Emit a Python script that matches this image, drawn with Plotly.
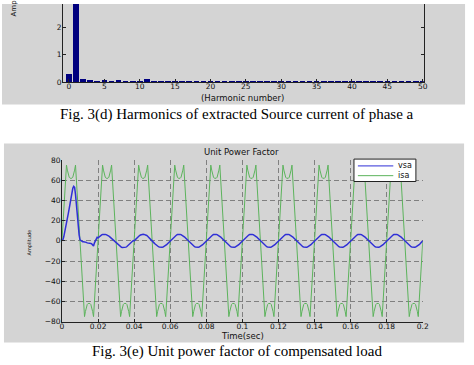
import plotly.graph_objects as go

W, H = 474, 365

def px(x):
    return x / W

def py(y):
    return 1 - y / H

# ---------------- data: harmonic spectrum (Fig. 3(d)) ----------------
harmonic_no = list(range(0, 51))
harmonic_amp = [0.28, 4.0, 0.10, 0.08, 0.05, 0.06, 0.05, 0.08, 0.05, 0.01,
                0.01, 0.12, 0.02, 0.02, 0.01, 0.04, 0.01, 0.02, 0.01, 0.02,
                0.03, 0.02, 0.01, 0.05, 0.02, 0.03, 0.01, 0.05, 0.02, 0.02,
                0.01, 0.02, 0.01, 0.02, 0.01, 0.01, 0.01, 0.01, 0.01, 0.01,
                0.01, 0.04, 0.01, 0.02, 0.01, 0.02, 0.01, 0.04, 0.01, 0.02,
                0.02]
harm_ticks = [0, 5, 10, 15, 20, 25, 30, 35, 40, 45, 50]

# ---------------- data: unit power factor waveforms (Fig. 3(e)) ----------------
t_step = 0.0005
n_cycles = 10
# one 20 ms cycle of isa (green), sampled every 0.5 ms
isa_cycle = [0, 15, 30, 46, 62, 75, 70, 66, 63, 62,
             62, 62, 63, 66, 70, 75, 62, 46, 30, 15,
             0, -15, -30, -46, -62, -75, -70, -66, -63, -62,
             -62, -62, -63, -66, -70, -75, -62, -46, -30, -15]
# vsa (blue): start-up transient over first cycle
vsa_first = [0, 1, 4, 8, 12, 17, 22, 27, 32, 38,
             44, 49, 52, 54, 53, 46, 35, 24, 14, 6,
             1, 0, -1, -1, -1, -1, -1.5, -1.5, -2, -2,
             -2, -2.5, -2.5, -3, -4, -5, -2, 0, 2, 3.5]
vsa_second = [3.0, 4.0, 5.0, 5.6, 6.0, 6.3, 6.5, 6.5, 6.4, 6.2,
              5.9, 5.4, 4.8, 4.0, 3.2, 2.4, 1.5, 0.6, -0.3, -1.0,
              -1.5, -2.6, -3.6, -4.5, -5.3, -5.9, -6.3, -6.5, -6.6, -6.6,
              -6.5, -6.2, -5.6, -4.8, -3.9, -3.0, -2.0, -1.0, -0.2, 0.3]
vsa_cycle = [0, 1.0, 2.0, 2.9, 3.8, 4.6, 5.3, 5.8, 6.2, 6.4,
             6.5, 6.4, 6.2, 5.8, 5.3, 4.6, 3.8, 2.9, 2.0, 1.0,
             0, -1.0, -2.0, -2.9, -3.8, -4.6, -5.3, -5.8, -6.2, -6.4,
             -6.5, -6.4, -6.2, -5.8, -5.3, -4.6, -3.8, -2.9, -2.0, -1.0]
time_ticks = [0, 0.02, 0.04, 0.06, 0.08, 0.1, 0.12, 0.14, 0.16, 0.18, 0.2]
time_tick_text = ["0", "0.02", "0.04", "0.06", "0.08", "0.1", "0.12", "0.14", "0.16", "0.18", "0.2"]
amp_ticks = [-80, -60, -40, -20, 0, 20, 40, 60, 80]

isa = isa_cycle * n_cycles + [0]
vsa = vsa_first + vsa_second + vsa_cycle * (n_cycles - 2) + [0]
t = [round(i * t_step, 4) for i in range(len(isa))]

FONT = "DejaVu Sans"
SERIF = "Liberation Serif"

fig = go.Figure()

fig.add_trace(go.Bar(x=harmonic_no, y=harmonic_amp, width=0.8,
                     marker=dict(color="#00007f", line=dict(width=0)),
                     xaxis="x", yaxis="y", showlegend=False))

fig.add_trace(go.Scatter(x=t, y=isa, mode="lines", name="isa",
                         line=dict(color="#5cb35c", width=1),
                         xaxis="x2", yaxis="y2", showlegend=False))
fig.add_trace(go.Scatter(x=t, y=vsa, mode="lines", name="vsa",
                         line=dict(color="#2f2fd6", width=1.5),
                         xaxis="x2", yaxis="y2", showlegend=False))

tickfont = dict(family=FONT, size=7.5, color="#111")

fig.update_layout(
    width=W, height=H,
    margin=dict(l=0, r=0, t=0, b=0),
    paper_bgcolor="white",
    plot_bgcolor="white",
    bargap=0,
    xaxis=dict(domain=[px(62), px(429)], range=[-0.85, 50.15], anchor="y",
               tickmode="array", tickvals=harm_ticks, ticks="inside", ticklen=3,
               tickcolor="#222", showline=True, linecolor="#222", linewidth=1,
               mirror=False, showgrid=False, zeroline=False, tickfont=tickfont,
               ticklabelstandoff=-3),
    yaxis=dict(domain=[py(80), 1], range=[0, 80 / 27.9], anchor="x",
               tickmode="array", tickvals=[0, 1, 2], ticks="inside", ticklen=3,
               tickcolor="#222", showline=True, linecolor="#222", linewidth=1,
               mirror="ticks", showgrid=False, zeroline=False, tickfont=tickfont,
               ticklabelstandoff=-1),
    xaxis2=dict(domain=[px(61), px(428)], range=[0, 0.2], anchor="y2",
                tickmode="array", tickvals=time_ticks, ticktext=time_tick_text,
                ticks="inside", ticklen=3, tickcolor="#222",
                showline=True, linecolor="#222", linewidth=1, mirror=False,
                showgrid=True, gridcolor="#808080", gridwidth=1, griddash="5px,3px",
                zeroline=False, tickfont=tickfont, ticklabelstandoff=-3),
    yaxis2=dict(domain=[py(325.7), py(160)], range=[-80, 80], anchor="x2",
                tickmode="array", tickvals=amp_ticks,
                ticks="inside", ticklen=3, tickcolor="#222",
                showline=True, linecolor="#222", linewidth=1, mirror=False,
                showgrid=True, gridcolor="#808080", gridwidth=1, griddash="5px,3px",
                zeroline=False, tickfont=tickfont, ticklabelstandoff=-1),
)

GRAY = "#d4d4d4"
shapes = [
    dict(type="rect", xref="paper", yref="paper", x0=0, x1=px(471), y0=py(103), y1=1,
         fillcolor=GRAY, line=dict(width=0), layer="below"),
    dict(type="rect", xref="paper", yref="paper", x0=px(2), x1=px(470), y0=py(347), y1=py(143),
         fillcolor=GRAY, line=dict(width=0), layer="below"),
    # legend box
    dict(type="rect", xref="paper", yref="paper", x0=px(358), x1=px(421), y0=py(182), y1=py(159),
         fillcolor="white", line=dict(color="#222", width=1), layer="above"),
    dict(type="line", xref="paper", yref="paper", x0=px(362), x1=px(398), y0=py(166), y1=py(166),
         line=dict(color="#2f2fd6", width=1), layer="above"),
    dict(type="line", xref="paper", yref="paper", x0=px(362), x1=px(398), y0=py(176), y1=py(176),
         line=dict(color="#5cb35c", width=1), layer="above"),
]
fig.update_layout(shapes=shapes)

def ann(text, x, y, size, family=FONT, angle=0, xanchor="center", yanchor="middle", color="#111"):
    return dict(text=text, x=px(x), y=py(y), xref="paper", yref="paper",
                showarrow=False, textangle=angle, xanchor=xanchor, yanchor=yanchor,
                font=dict(family=family, size=size, color=color))

annotations = [
    ann("(Harmonic number)", 245, 96.5, 8.5),
    ann("Amplitude", 12, 15, 7, angle=-90, yanchor="bottom"),
    ann("Fig. 3(d) Harmonics of extracted Source current of phase a", 239.5, 113, 15, family=SERIF, color="#000"),
    ann("Unit Power Factor", 244, 152, 8.5),
    ann("Time(sec)", 245, 340.5, 8.5),
    ann("Amplitude", 28, 245, 5, angle=-90),
    ann("Fig. 3(e) Unit power factor of compensated load", 239.5, 356, 15, family=SERIF, color="#000"),
    ann("vsa", 401, 166, 8, xanchor="left"),
    ann("isa", 401, 176, 8, xanchor="left"),
]
fig.update_layout(annotations=annotations)

fig.write_html("out.html",
               config={"displayModeBar": False},
               post_script="document.body.style.margin='0';document.body.style.overflow='hidden';")
